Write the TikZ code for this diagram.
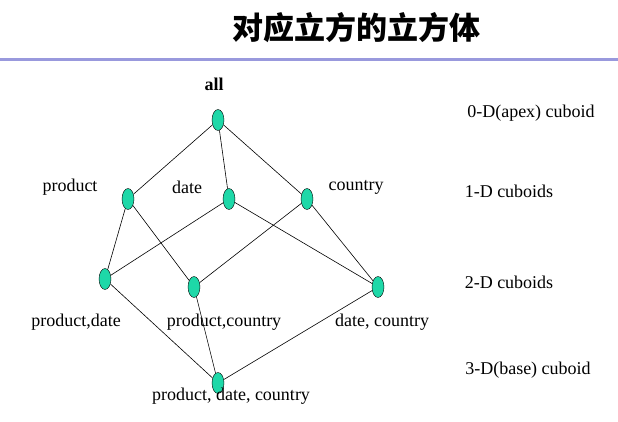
\documentclass[tikz,border=0pt]{standalone}
\usepackage{fontspec}
\setmainfont{Liberation Serif}
\newfontfamily\cjk{Noto Sans CJK SC}
\usetikzlibrary{shapes.geometric}
\definecolor{nodefill}{HTML}{1ED8A8}
\definecolor{rulecol}{HTML}{9999DD}
\tikzset{
  cub/.style={ellipse,draw=black,fill=nodefill,minimum width=12pt,minimum height=21pt,inner sep=0pt},
  lbl/.style={font=\fontsize{18}{20}\selectfont,inner sep=0pt},
  edge/.style={draw=black,line width=0.6pt}
}
\begin{document}
\begin{tikzpicture}[x=1pt,y=-1pt]
\useasboundingbox (0,0) rectangle (618,422);
\node[font=\cjk\bfseries\fontsize{31}{34}\selectfont] (title) at (356,28) {对应立方的立方体};
\draw[rulecol,line width=3pt] (0,60) -- (618,60);
\node[cub] (all) at (218,120) {};
\node[cub] (p) at (128,199) {};
\node[cub] (d) at (229,199) {};
\node[cub] (c) at (307,199) {};
\node[cub] (pd) at (105,279) {};
\node[cub] (pc) at (194,287) {};
\node[cub] (dc) at (378,287) {};
\node[cub] (pdc) at (218,383) {};
\foreach \a/\b in {all/p,all/d,all/c,p/pd,p/pc,d/pd,d/dc,c/pc,c/dc,pd/pdc,pc/pdc,dc/pdc}
  \draw[edge] (\a) -- (\b);
\node[lbl,font=\bfseries\fontsize{18}{20}\selectfont] (lall) at (214,84) {all};
\node[lbl] (lp) at (70,187) {product};
\node[lbl] (ld) at (187,187) {date};
\node[lbl] (lc) at (356,187) {country};
\node[lbl] (lpd) at (76,322) {product,date};
\node[lbl] (lpc) at (224,322) {product,country};
\node[lbl] (ldc) at (382,322) {date, country};
\node[lbl] (lpdc) at (231,396) {product, date, country};
\node[lbl] (r0) at (531,113) {0-D(apex) cuboid};
\node[lbl] (r1) at (509,191) {1-D cuboids};
\node[lbl] (r2) at (509,282) {2-D cuboids};
\node[lbl] (r3) at (528,370) {3-D(base) cuboid};
\end{tikzpicture}
\end{document}
